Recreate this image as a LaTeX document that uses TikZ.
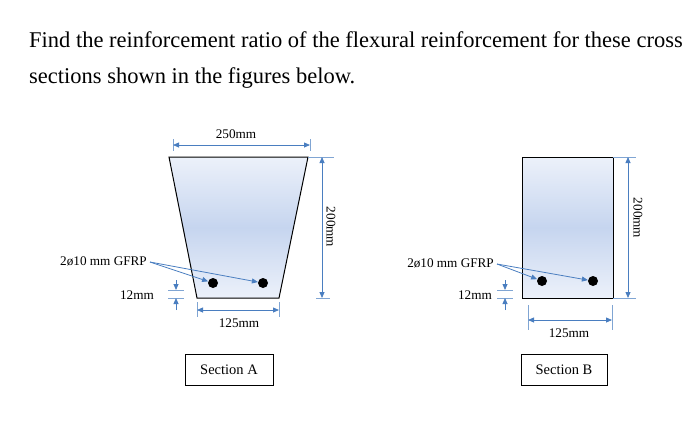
\documentclass[tikz,border=0pt]{standalone}
\usepackage{fontspec}
\setmainfont{Liberation Serif}
\usetikzlibrary{arrows.meta}
\definecolor{dimc}{HTML}{4A7EC0}
\definecolor{lite}{HTML}{ECF1FA}
\definecolor{mid}{HTML}{C6D5EF}
\begin{document}
\begin{tikzpicture}[x=1pt,y=-1pt,
  dim/.style={draw=dimc,line width=0.8pt,-{Triangle[length=6pt,width=5pt]}},
  dimb/.style={draw=dimc,line width=0.8pt,{Triangle[length=6pt,width=5pt]}-{Triangle[length=6pt,width=5pt]}},
  ext/.style={draw=dimc!70,line width=0.6pt},
  lbl/.style={font=\fontsize{13.2}{15}\selectfont,inner sep=0pt},
  bar/.style={circle,fill=black,minimum size=10pt,inner sep=0pt},
  secbox/.style={draw,line width=0.6pt,minimum width=88pt,minimum height=31pt,font=\fontsize{14.5}{16}\selectfont}]
\useasboundingbox (0,0) rectangle (700,424);
\node[anchor=west,font=\fontsize{22.5}{26}\selectfont,inner sep=0pt] (t1) at (29,40) {Find the reinforcement ratio of the flexural reinforcement for these cross};
\node[anchor=west,font=\fontsize{22.5}{26}\selectfont,inner sep=0pt] (t2) at (29,78) {sections shown in the figures below.};
% Section A
\shade[top color=lite,bottom color=lite,middle color=mid,draw=black,line width=1pt]
  (169,157) -- (308,157) -- (279,298) -- (197,298) -- cycle;
\node[bar] (a1) at (213,283) {};
\node[bar] (a2) at (263,283) {};
\coordinate (aL) at (150,262);
\node[lbl,anchor=east] (aT) at (147,261) {2ø10 mm GFRP};
\draw[dim] (aL) -- (a1);
\draw[dim] (aL) -- (a2);
\draw[ext] (173,139) -- (173,151) (310,139) -- (310,151);
\coordinate (a250l) at (173,145); \coordinate (a250r) at (310,145);
\draw[dimb] (a250l) -- (a250r);
\node[lbl] (a250) at (236,134) {250mm};
\draw[ext] (308,157) -- (334,157) (316,298) -- (330,298);
\coordinate (a200t) at (322,157); \coordinate (a200b) at (322,298);
\draw[dimb] (a200t) -- (a200b);
\node[lbl,rotate=-90] (a200) at (331,227) {200mm};
\draw[ext] (197,302) -- (197,317) (279,302) -- (279,317);
\coordinate (a125l) at (197,310); \coordinate (a125r) at (279,310);
\draw[dimb] (a125l) -- (a125r);
\node[lbl] (a125) at (239,323) {125mm};
\draw[ext] (168,290) -- (184,290) (168,298) -- (184,298);
\coordinate (a12a) at (176,280); \coordinate (a12b) at (176,290);
\coordinate (a12c) at (176,310); \coordinate (a12d) at (176,298);
\draw[dim] (a12a) -- (a12b);
\draw[dim] (a12c) -- (a12d);
\node[lbl] (a12) at (137,295) {12mm};
\node[secbox] (sa) at (229,370) {Section A};
% Section B
\shade[top color=lite,bottom color=lite,middle color=mid,draw=black,line width=1pt]
  (522,157) rectangle (613,298);
\node[bar] (b1) at (542,281) {};
\node[bar] (b2) at (593,281) {};
\coordinate (bL) at (497,264);
\node[lbl,anchor=east] (bT) at (494,263) {2ø10 mm GFRP};
\draw[dim] (bL) -- (b1);
\draw[dim] (bL) -- (b2);
\draw[ext] (613,157) -- (636,157) (613,298) -- (636,298);
\coordinate (b200t) at (628,157); \coordinate (b200b) at (628,298);
\draw[dimb] (b200t) -- (b200b);
\node[lbl,rotate=-90] (b200) at (638,218) {200mm};
\draw[ext] (528,305) -- (528,330) (612,305) -- (612,330);
\coordinate (b125l) at (528,320); \coordinate (b125r) at (612,320);
\draw[dimb] (b125l) -- (b125r);
\node[lbl] (b125) at (569,333) {125mm};
\draw[ext] (497,290) -- (513,290) (497,298) -- (513,298);
\coordinate (b12a) at (505,280); \coordinate (b12b) at (505,290);
\coordinate (b12c) at (505,310); \coordinate (b12d) at (505,298);
\draw[dim] (b12a) -- (b12b);
\draw[dim] (b12c) -- (b12d);
\node[lbl] (b12) at (475,295) {12mm};
\node[secbox,minimum width=86pt] (sb) at (564,370) {Section B};
\end{tikzpicture}
\end{document}
